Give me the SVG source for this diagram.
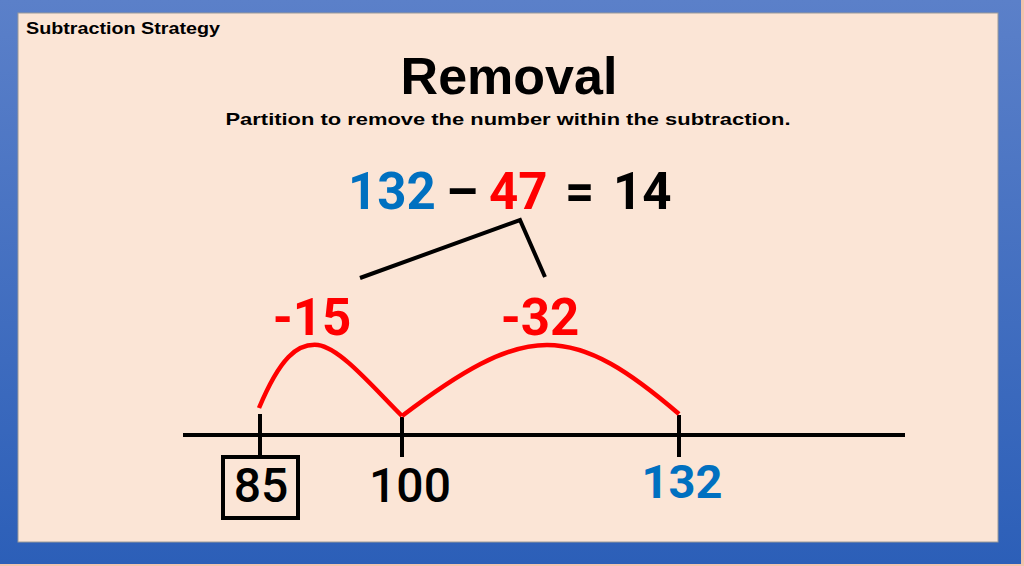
<svg xmlns="http://www.w3.org/2000/svg" width="1024" height="566" viewBox="0 0 1024 566">
<defs>
<linearGradient id="bg" x1="0" y1="0" x2="0" y2="1">
<stop offset="0" stop-color="#5B80C9"/>
<stop offset="1" stop-color="#2C5FB8"/>
</linearGradient>
</defs>
<style>
.hd{font-family:"Liberation Sans",Arial,sans-serif;font-weight:bold;fill:#000}
.num{font-family:Roboto,"Liberation Sans",sans-serif;font-weight:bold}
.lbl{font-family:Roboto,"Liberation Sans",sans-serif;font-weight:500;fill:#000}
.blk{stroke:#000;stroke-width:4;fill:none}
.red{stroke:#FF0000;stroke-width:4.5;fill:none;stroke-linecap:butt}
</style>
<rect x="0" y="0" width="1024" height="566" fill="#F2C3AE"/>
<rect x="0" y="0" width="1021" height="564" fill="url(#bg)"/>
<rect id="panel" x="18" y="13" width="980" height="529" fill="#FBE5D6" stroke="#9A9A9A" stroke-width="1"/>

<g id="header">
<text class="hd" x="26" y="34" font-size="16" textLength="194" lengthAdjust="spacingAndGlyphs">Subtraction Strategy</text>
<text class="hd" x="509" y="94" font-size="52" text-anchor="middle">Removal</text>
<text class="hd" x="508" y="125" font-size="17" text-anchor="middle" textLength="565" lengthAdjust="spacingAndGlyphs">Partition to remove the number within the subtraction.</text>
</g>

<g id="equation" class="num" font-size="51">
<text x="348" y="209" fill="#0070C0">132</text>
<text x="446" y="209" fill="#000">–</text>
<text x="489" y="209" fill="#FF0000">47</text>
<text x="565" y="209" fill="#000">=</text>
<text x="613" y="209" fill="#000">14</text>
</g>

<g id="connectors">
<polyline class="blk" stroke-width="5" points="360,278 520,220 545,277"/>
<line class="blk" x1="183" y1="435" x2="905" y2="435"/>
<line class="blk" x1="260" y1="414" x2="260" y2="457"/>
<line class="blk" x1="402" y1="417" x2="402" y2="457"/>
<line class="blk" x1="679" y1="415" x2="679" y2="457"/>
<path class="red" d="M259,408 C280,358 297,343 318,345 C340,348 372,386 402,416"/>
<path class="red" d="M402,416 C460,372 505,345 547,345 C590,345 630,372 679,414"/>
</g>

<g id="jump-labels" class="num" font-size="51" fill="#FF0000">
<text x="312" y="335" text-anchor="middle">-15</text>
<text x="540" y="335" text-anchor="middle">-32</text>
</g>

<g id="node-85">
<rect class="blk" x="223" y="457" width="75" height="61"/>
<text class="lbl" x="261" y="502" font-size="48" text-anchor="middle">85</text>
</g>
<g id="node-100">
<text class="lbl" x="410" y="502" font-size="48" text-anchor="middle">100</text>
</g>
<g id="node-132">
<text class="num" x="682" y="498" font-size="47" fill="#0070C0" text-anchor="middle">132</text>
</g>
</svg>
